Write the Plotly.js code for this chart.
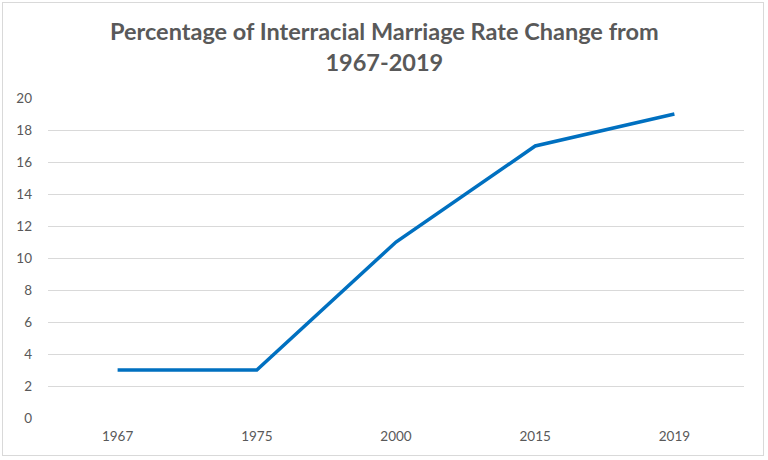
<!DOCTYPE html>
<html>
<head>
<meta charset="utf-8">
<script src="https://cdn.plot.ly/plotly-3.0.1.min.js"></script>
<style>
html,body{margin:0;padding:0;background:#fff;}
#wrap{position:relative;width:768px;height:460px;}
#chart{width:768px;height:460px;}
#frame{position:absolute;left:2px;top:2px;width:762px;height:454px;border:1px solid #d9d9d9;box-sizing:border-box;pointer-events:none;}
</style>
</head>
<body>
<div id="wrap"><div id="chart"></div><div id="frame"></div></div>
<script>
var years = ['1967', '1975', '2000', '2015', '2019'];
var rates = [3, 3, 11, 17, 19];
var yTicks = [0, 2, 4, 6, 8, 10, 12, 14, 16, 18, 20];
var chartTitle = 'Percentage of Interracial Marriage Rate Change from<br>1967-2019';

var trace = {
  x: years,
  y: rates,
  type: 'scatter',
  mode: 'lines',
  line: {color: '#0070c0', width: 3.5},
  hoverinfo: 'x+y'
};

var tickFont = {family: 'Lato, Calibri, sans-serif', size: 13.5, color: '#595959'};

var layout = {
  width: 768,
  height: 460,
  paper_bgcolor: '#ffffff',
  plot_bgcolor: '#ffffff',
  margin: {l: 48, r: 24, t: 98, b: 42},
  showlegend: false,
  annotations: [{
    text: chartTitle,
    xref: 'paper', yref: 'paper',
    x: 0.4828, y: 1.16,
    xanchor: 'center', yanchor: 'middle',
    showarrow: false,
    align: 'center',
    font: {family: 'Lato, Calibri, sans-serif', size: 23.5, color: '#595959', weight: 'bold'}
  }],
  xaxis: {
    type: 'category',
    range: [-0.5, 4.5],
    showgrid: false,
    zeroline: false,
    showline: false,
    ticks: '',
    ticklabelstandoff: 8,
    tickfont: tickFont,
    fixedrange: true
  },
  yaxis: {
    range: [0, 20],
    tickvals: yTicks,
    showgrid: true,
    gridcolor: '#d9d9d9',
    gridwidth: 1,
    zeroline: false,
    showline: false,
    ticks: '',
    ticklen: 0,
    ticklabelstandoff: 15,
    tickfont: tickFont,
    fixedrange: true
  }
};

Plotly.newPlot('chart', [trace], layout, {displayModeBar: false, staticPlot: true});
</script>
</body>
</html>
